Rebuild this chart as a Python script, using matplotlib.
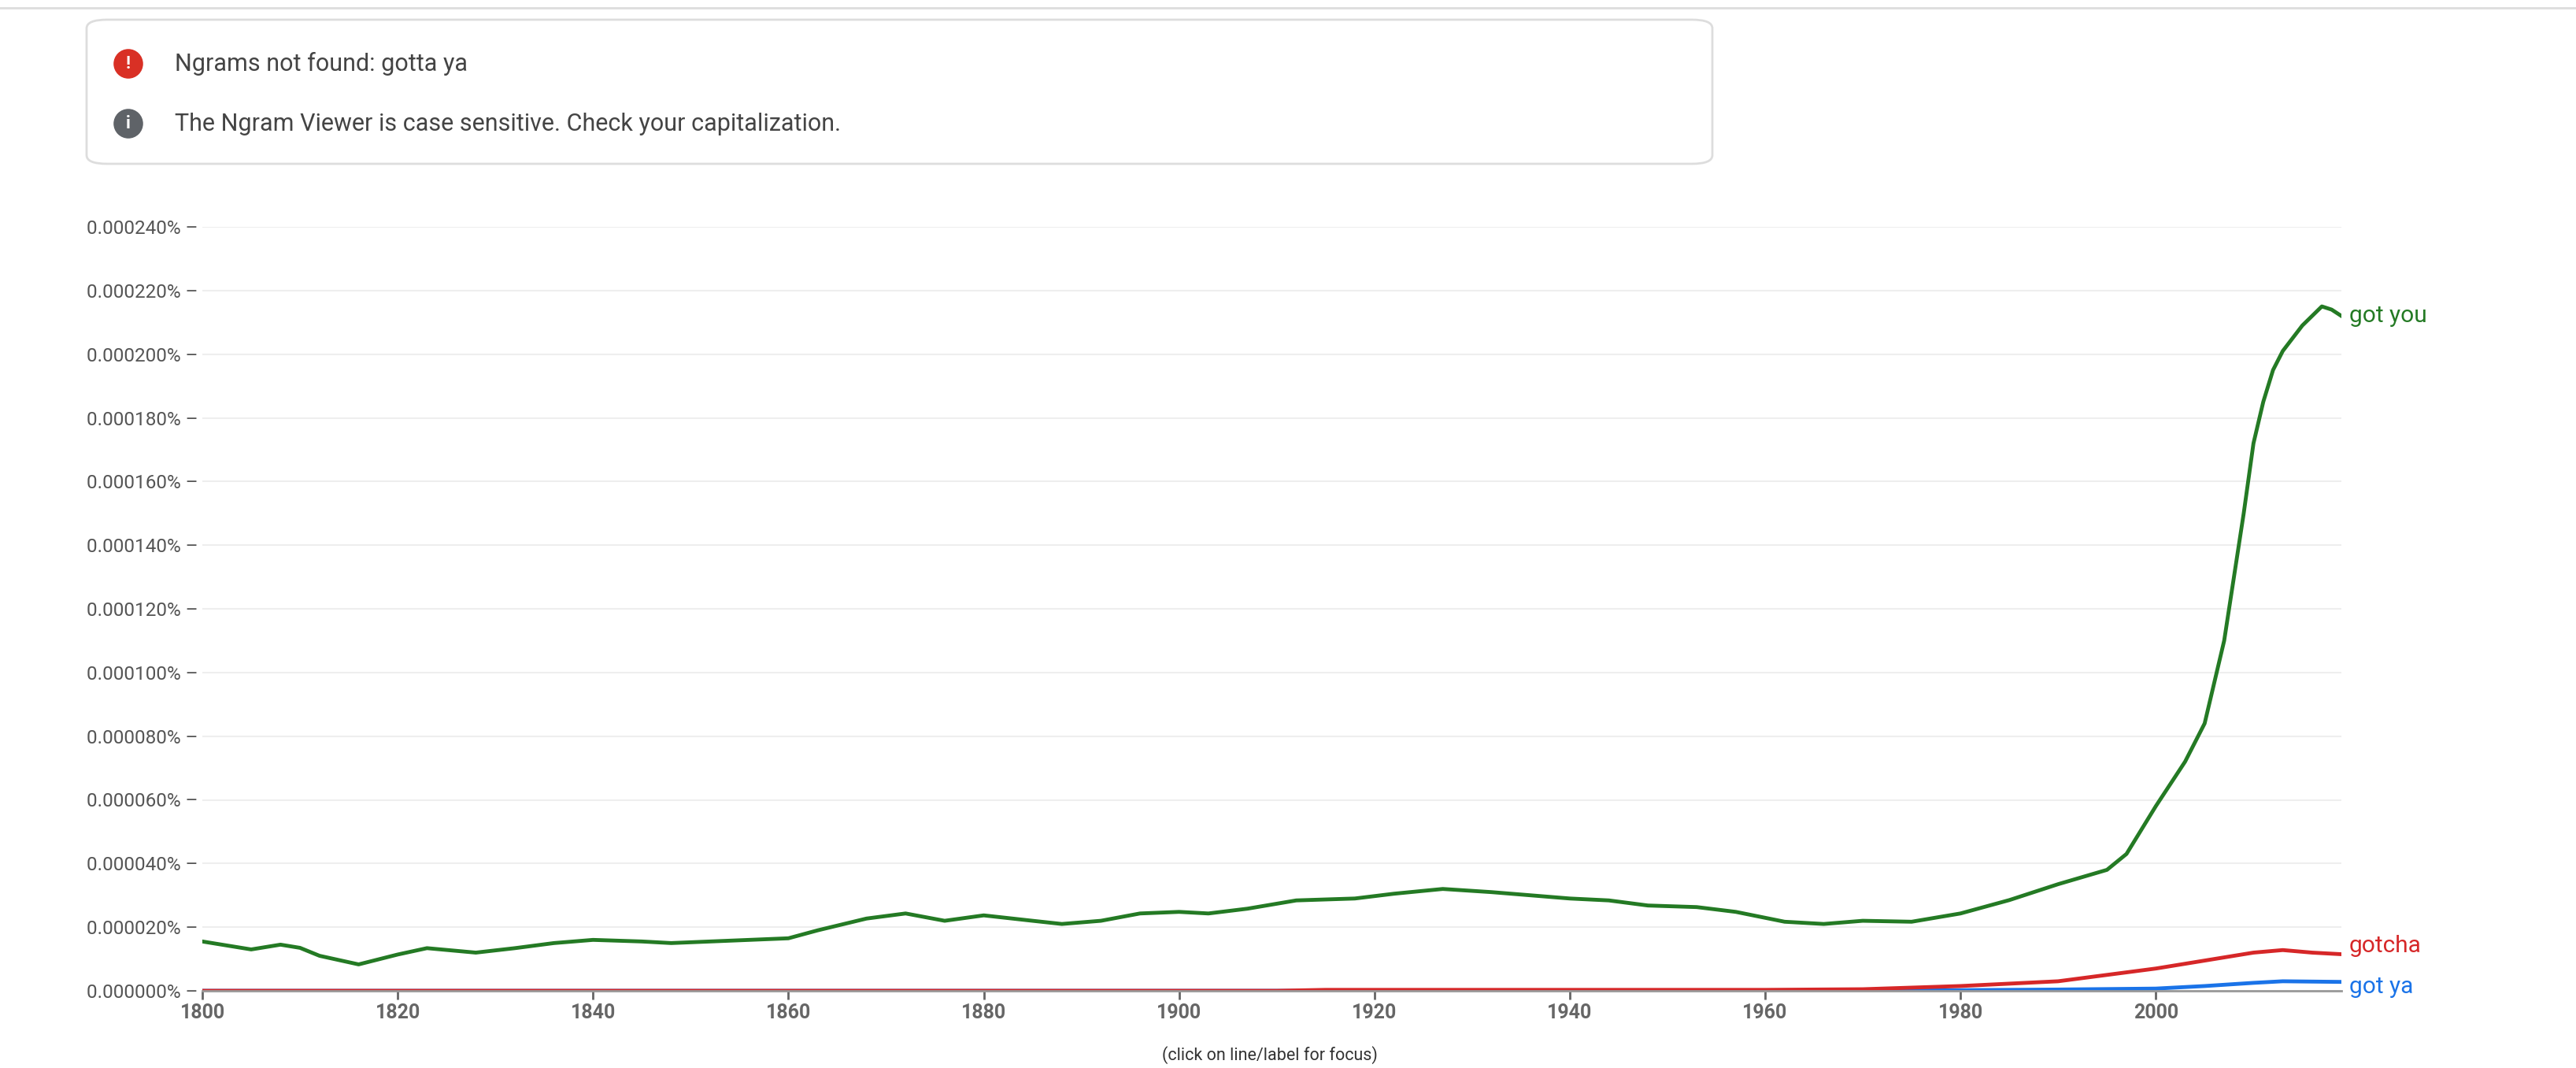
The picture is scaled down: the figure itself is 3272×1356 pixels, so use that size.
import matplotlib.pyplot as plt
from matplotlib.patches import FancyBboxPatch

# Data (values in units of 1e-6 %)
you_years = [1800, 1803, 1805, 1808, 1810, 1812, 1816, 1820, 1823, 1828, 1832, 1836, 1840,
             1845, 1848, 1852, 1856, 1860, 1863, 1868, 1872, 1876, 1880, 1885, 1888, 1892,
             1896, 1900, 1903, 1907, 1912, 1918, 1922, 1927, 1932, 1936, 1940, 1944, 1948,
             1953, 1957, 1962, 1966, 1970, 1975, 1980, 1985, 1990, 1995, 1997, 2000, 2003,
             2005, 2007, 2009, 2010, 2011, 2012, 2013, 2015, 2017, 2018, 2019]
you_vals = [15.5, 14, 13, 14.5, 13.5, 11, 8.3, 11.4, 13.4, 12, 13.4, 15, 16,
            15.5, 15, 15.5, 16, 16.5, 19, 22.7, 24.3, 22, 23.7, 22, 21, 22,
            24.3, 24.8, 24.3, 25.8, 28.4, 29, 30.5, 32, 31, 30, 29, 28.4, 26.8,
            26.3, 24.8, 21.7, 21, 22, 21.7, 24.3, 28.5, 33.5, 38, 43, 58, 72,
            84, 110, 150, 172, 185, 195, 201, 209, 215, 214, 212]
gotcha_years = [1800, 1910, 1915, 1960, 1970, 1980, 1990, 1995, 2000, 2005, 2010, 2013, 2016, 2019]
gotcha_vals = [0, 0, 0.3, 0.3, 0.5, 1.5, 3, 5, 7, 9.5, 12, 12.8, 12, 11.5]
ya_years = [1800, 1970, 1980, 1990, 2000, 2005, 2010, 2013, 2019]
ya_vals = [0, 0, 0.2, 0.4, 0.7, 1.5, 2.5, 3, 2.8]
yticks = [0, 20, 40, 60, 80, 100, 120, 140, 160, 180, 200, 220, 240]

green, red, blue = '#247a24', '#d62728', '#1a73e8'
W, H = 3272, 1356
fig = plt.figure(figsize=(W / 100, H / 100), dpi=100)
plt.rcParams['font.family'] = ['Roboto', 'DejaVu Sans']

ax = fig.add_axes([257 / W, 1 - 1258 / H, (2974 - 257) / W, (1258 - 288) / H])
ax.plot(you_years, you_vals, color=green, lw=3.5)
ax.plot(ya_years, ya_vals, color=blue, lw=3.5)
ax.plot(gotcha_years, gotcha_vals, color=red, lw=3.5)
ax.text(2019.8, you_vals[-1], 'got you', color=green, fontsize=21.5, va='center')
ax.text(2019.8, gotcha_vals[-1] + 2.5, 'gotcha', color=red, fontsize=21.5, va='center')
ax.text(2019.8, ya_vals[-1] - 1.5, 'got ya', color=blue, fontsize=21.5, va='center')

ax.set_xlim(1800, 2019)
ax.set_ylim(0, 240)
ax.set_yticks(yticks)
ax.set_yticklabels(['%.6f%% –' % (v / 1e6) for v in yticks], fontsize=17.5, color='#555555')
ax.set_xticks(range(1800, 2020, 20))
ax.tick_params(axis='x', labelsize=18, colors='#666666', length=8, width=2)
ax.tick_params(axis='y', length=0, pad=4)
for lbl in ax.get_xticklabels():
    lbl.set_fontweight('bold')
ax.grid(axis='y', color='#eeeeee', lw=1.5)
ax.set_axisbelow(True)
for s in ['top', 'right', 'left']:
    ax.spines[s].set_visible(False)
ax.spines['bottom'].set_color('#999999')
ax.spines['bottom'].set_linewidth(2)

# Top rule and info box
fig.add_artist(plt.Line2D([0, 1], [1 - 10 / H, 1 - 10 / H], color='#dddddd', lw=2))
fig.add_artist(FancyBboxPatch((110 / W, 1 - 208 / H), (2175 - 110) / W, (208 - 25) / H,
                              boxstyle='round,pad=0,rounding_size=0.008',
                              transform=fig.transFigure, fc='white', ec='#dddddd', lw=2))
for yy, col, sym, txt in [(81, '#d93025', '!', 'Ngrams not found: gotta ya'),
                          (157, '#5f6368', 'i', 'The Ngram Viewer is case sensitive. Check your capitalization.')]:
    fig.text(163 / W, 1 - yy / H, sym, ha='center', va='center', color='white', fontsize=16,
             fontweight='bold', bbox=dict(boxstyle='circle,pad=0.35', fc=col, ec='none'))
    fig.text(222 / W, 1 - yy / H, txt, ha='left', va='center', color='#444444', fontsize=22)

fig.text(1613 / W, 1 - 1340 / H, '(click on line/label for focus)', ha='center', va='center',
         fontsize=15.5, color='#333333')
fig.savefig('out.png', dpi=100, facecolor='white')
